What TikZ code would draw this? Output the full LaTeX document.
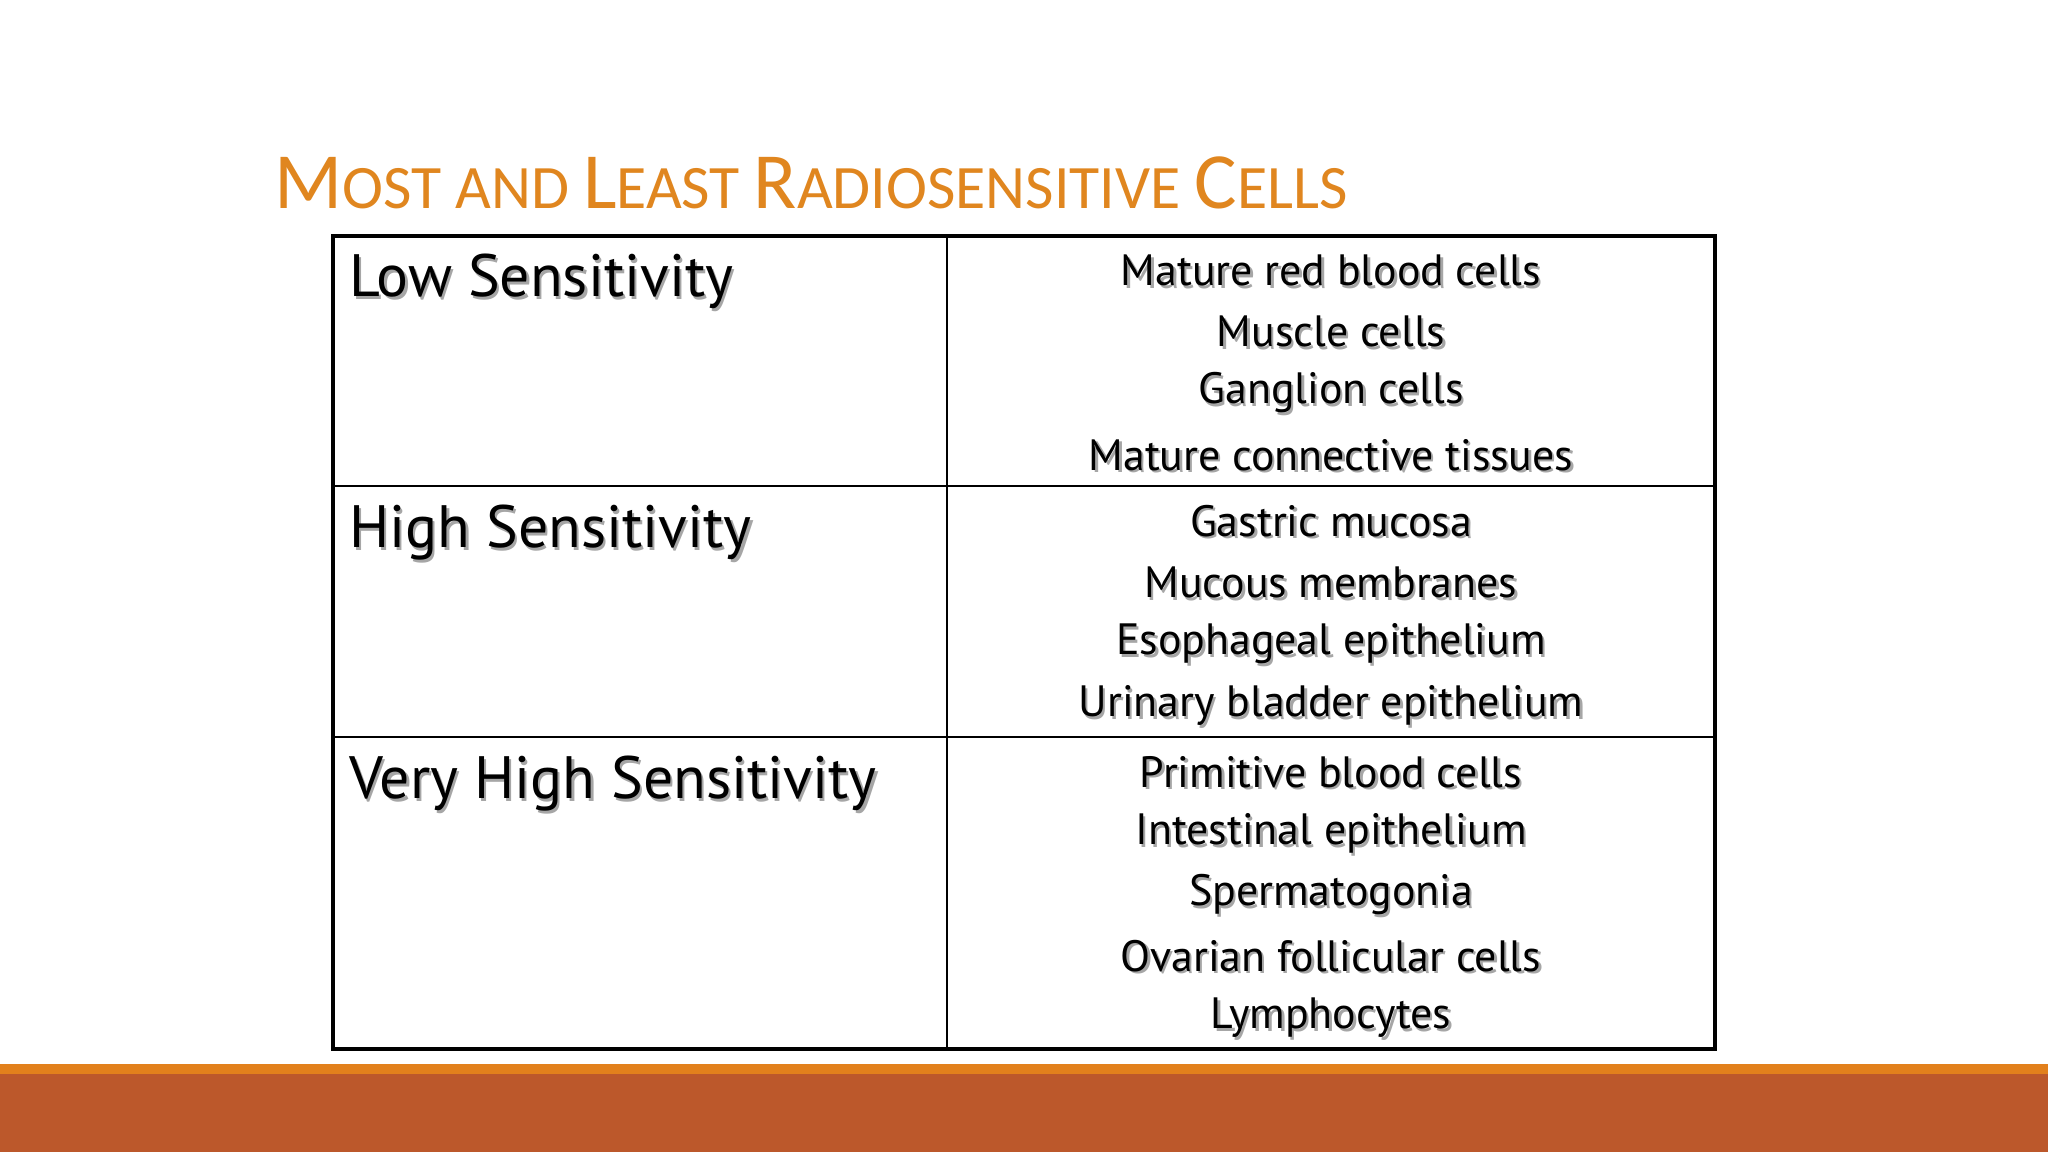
\documentclass[tikz,border=0pt]{standalone}
\usepackage{fontspec}
\setmainfont{PT Sans}
\newfontfamily\titlefont{Carlito}
\definecolor{ttl}{HTML}{E0861F}
\definecolor{band}{HTML}{BC582B}
\definecolor{bandline}{HTML}{E2801C}
\newcommand\shtext[1]{\leavevmode\rlap{\kern1.2pt\raisebox{-1.2pt}{\color{black!35}#1}}#1}
\tikzset{cell/.style={font=\fontsize{22}{24}\selectfont, anchor=center, inner sep=0},
 lab/.style={font=\fontsize{30}{32}\selectfont, anchor=west, inner sep=0}}
\begin{document}
\begin{tikzpicture}[x=0.5bp,y=-0.5bp]
\useasboundingbox (0,0) rectangle (2048,1152);
\fill[white] (0,0) rectangle (2048,1152);
\fill[band] (0,1074) rectangle (2048,1152);
\fill[bandline] (0,1064) rectangle (2048,1074);
\node[anchor=base west, inner sep=0, text=ttl, font=\titlefont\fontsize{40}{40}\selectfont] (title) at (274,209)
 {M{\fontsize{31}{31}\selectfont OST AND }L{\fontsize{31}{31}\selectfont EAST }R{\fontsize{31}{31}\selectfont ADIOSENSITIVE }C{\fontsize{31}{31}\selectfont ELLS}};
\draw[line width=2.2bp] (333,236) rectangle (1715,1049);
\draw[line width=0.8bp] (947,236) -- (947,1049);
\draw[line width=0.8bp] (333,486) -- (1715,486);
\draw[line width=0.8bp] (333,737) -- (1715,737);
\node[lab] (l1) at (349,283) {\shtext{Low Sensitivity}};
\node[lab] (l2) at (349,534) {\shtext{High Sensitivity}};
\node[lab] (l3) at (349,785) {\shtext{Very High Sensitivity}};
\node[cell] (a1) at (1331,272) {\shtext{Mature red blood cells}};
\node[cell] (a2) at (1331,333) {\shtext{Muscle cells}};
\node[cell] (a3) at (1331,394) {\shtext{Ganglion cells}};
\node[cell] (a4) at (1331,456) {\shtext{Mature connective tissues}};
\node[cell] (b1) at (1331,522) {\shtext{Gastric mucosa}};
\node[cell] (b2) at (1331,584) {\shtext{Mucous membranes}};
\node[cell] (b3) at (1331,645) {\shtext{Esophageal epithelium}};
\node[cell] (b4) at (1331,707) {\shtext{Urinary bladder epithelium}};
\node[cell] (c1) at (1331,773) {\shtext{Primitive blood cells}};
\node[cell] (c2) at (1331,835) {\shtext{Intestinal epithelium}};
\node[cell] (c3) at (1331,896) {\shtext{Spermatogonia}};
\node[cell] (c4) at (1331,957) {\shtext{Ovarian follicular cells}};
\node[cell] (c5) at (1331,1019) {\shtext{Lymphocytes}};
\end{tikzpicture}
\end{document}
